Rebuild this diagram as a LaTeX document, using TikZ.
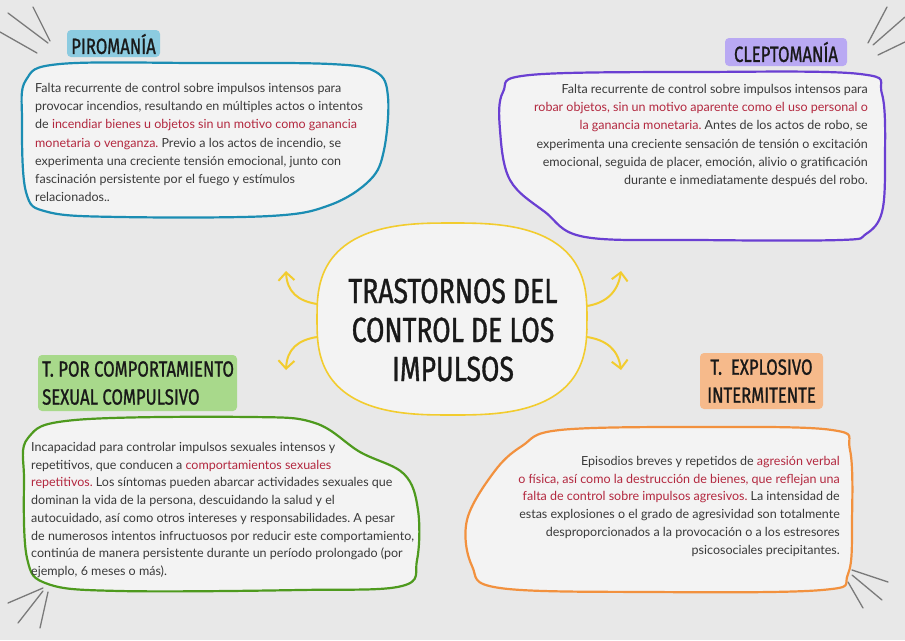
\documentclass[tikz,border=0pt]{standalone}
\usepackage{fontspec}
\setmainfont{Lato}
\newfontfamily\titlef[FakeStretch=0.76,FakeBold=1.0]{Fira Sans}
\usetikzlibrary{arrows.meta}
\frenchspacing
\definecolor{bg}{HTML}{E8E8E8}
\definecolor{blobfill}{HTML}{F3F3F3}
\definecolor{txt}{HTML}{3A3A3A}
\definecolor{hl}{HTML}{B3283F}
\definecolor{pblue}{HTML}{1B8DB3}
\definecolor{ppurple}{HTML}{6A3FD2}
\definecolor{pgreen}{HTML}{4E9A1E}
\definecolor{porange}{HTML}{F2913E}
\definecolor{pyellow}{HTML}{F2CC2E}
\definecolor{hblue}{HTML}{8CCBE0}
\definecolor{hpurple}{HTML}{B9A9F3}
\definecolor{hgreen}{HTML}{A8D98B}
\definecolor{horange}{HTML}{F6BA8B}
\definecolor{deco}{HTML}{7A7A7A}
\newcommand{\hlt}[1]{\textcolor{hl}{#1}}
\tikzset{
  blob/.style={line width=2.2pt, fill=blobfill, line join=round},
  body/.style={inner sep=0pt, text=txt, font=\fontsize{12.5}{18.2}\selectfont},
  head/.style={rounded corners=4pt, inner sep=0pt},
  headtxt/.style={inner sep=0pt, text=black!90, font=\titlef\fontsize{22}{28}\selectfont},
  ray/.style={draw=deco, line width=1.3pt, line cap=round},
  yarrow/.style={draw=pyellow, line width=2pt, line cap=round, -{Straight Barb[length=8pt,width=16pt,line width=2pt]}}
}
\begin{document}
\begin{tikzpicture}[x=1pt,y=-1pt]
\fill[bg] (0,0) rectangle (905,640);
\useasboundingbox (0,0) rectangle (905,640);

% decorative rays
\draw[ray] (8,13) -- (48,43);
\draw[ray] (33,7) -- (50,41);
\draw[ray] (0,32) -- (37,53);
\draw[ray] (887,7) -- (868,43);
\draw[ray] (905,17) -- (873,45);
\draw[ray] (905,42) -- (878,55);
\draw[ray] (43,588) -- (8,603);
\draw[ray] (43,591) -- (18,623);
\draw[ray] (48,592) -- (40,628);
\draw[ray] (852,570) -- (888,582);
\draw[ray] (852,575) -- (882,600);
\draw[ray] (848,582) -- (863,608);

% blobs
\draw[blob, draw=pblue] plot[smooth cycle, tension=0.6] coordinates {
 (26,80) (60,64) (200,63) (330,64) (376,72) (388,97) (384,150) (370,180) (330,205) (270,216) (120,217) (48,212) (26,192) (22,120)};
\draw[blob, draw=ppurple] plot[smooth cycle, tension=0.6] coordinates {
 (503,92) (530,75) (700,72) (860,74) (882,94) (885,160) (882,212) (866,234) (840,240) (700,240) (585,237) (545,212) (510,180) (500,130)};
\draw[blob, draw=pgreen] plot[smooth cycle, tension=0.6] coordinates {
 (28,438) (75,420) (250,417) (315,423) (360,452) (404,474) (418,510) (417,560) (402,586) (300,590) (120,591) (48,584) (27,558) (24,480)};
\draw[blob, draw=porange] plot[smooth cycle, tension=0.6] coordinates {
 (494,472) (522,446) (560,430) (700,427) (832,430) (850,450) (852,520) (848,574) (822,590) (650,592) (500,588) (472,566) (467,520)};
\draw[line width=1.6pt, draw=pyellow, fill=blobfill] plot[domain=2.5:362.5, samples=72, smooth cycle]
 ({452+135*sign(cos(\x))*pow(abs(cos(\x)),0.72)}, {319+96*sign(sin(\x))*pow(abs(sin(\x)),0.72)});

% headings
\fill[head, fill=hblue] (67,30) rectangle (160,57);
\node[headtxt] (hpiro) at (113.5,44) {PIROMANÍA};
\fill[head, fill=hpurple] (725,38) rectangle (847,66);
\node[headtxt] (hclep) at (786,52) {CLEPTOMANÍA};
\fill[head, fill=hgreen] (38,355) rectangle (237,411);
\node[headtxt, anchor=west, align=left] (hsex) at (42,383) {T. POR COMPORTAMIENTO\\SEXUAL COMPULSIVO};
\fill[head, fill=horange] (700,353) rectangle (823,409);
\node[headtxt, align=center] (hexp) at (761.5,381) {T.\ \ EXPLOSIVO\\INTERMITENTE};

% central title
\node[inner sep=0pt, align=center, text=black!90, font=\titlef\fontsize{35}{39}\selectfont] (center) at (453,330) {TRASTORNOS DEL\\CONTROL DE LOS\\IMPULSOS};

% arrows
\coordinate (la1) at (317,304);
\coordinate (la2) at (286,271);
\coordinate (lb1) at (317,337);
\coordinate (lb2) at (286,370);
\coordinate (ra1) at (587,306);
\coordinate (ra2) at (621,271);
\coordinate (rb1) at (587,337);
\coordinate (rb2) at (621,370);
\draw[yarrow] (la1) .. controls (298,301) and (287,292) .. (la2);
\draw[yarrow] (lb1) .. controls (298,340) and (287,349) .. (lb2);
\draw[yarrow] (ra1) .. controls (606,303) and (618,292) .. (ra2);
\draw[yarrow] (rb1) .. controls (606,340) and (618,349) .. (rb2);

% body texts
\node[body, anchor=north west, align=left] (tpiro) at (35,83) {Falta recurrente de control sobre impulsos intensos para\\
provocar incendios, resultando en múltiples actos o intentos\\
de \hlt{incendiar bienes u objetos sin un motivo como ganancia}\\
\hlt{monetaria o venganza.} Previo a los actos de incendio, se\\
experimenta una creciente tensión emocional, junto con\\
fascinación persistente por el fuego y estímulos\\
relacionados..};

\node[body, anchor=north east, align=right] (tclep) at (868,84) {Falta recurrente de control sobre impulsos intensos para\\
\hlt{robar objetos, sin un motivo aparente como el uso personal o}\\
\hlt{la ganancia monetaria.} Antes de los actos de robo, se\\
experimenta una creciente sensación de tensión o excitación\\
emocional, seguida de placer, emoción, alivio o gratificación\\
durante e inmediatamente después del robo.};

\node[body, anchor=north west, align=left, font=\fontsize{12.5}{17.75}\selectfont] (tsex) at (31,442) {Incapacidad para controlar impulsos sexuales intensos y\\
repetitivos, que conducen a \hlt{comportamientos sexuales}\\
\hlt{repetitivos.} Los síntomas pueden abarcar actividades sexuales que\\
dominan la vida de la persona, descuidando la salud y el\\
autocuidado, así como otros intereses y responsabilidades. A pesar\\
de numerosos intentos infructuosos por reducir este comportamiento,\\
continúa de manera persistente durante un período prolongado (por\\
ejemplo, 6 meses o más).};

\node[body, anchor=north east, align=right, font=\fontsize{12.5}{17.75}\selectfont] (texp) at (840,456) {Episodios breves y repetidos de \hlt{agresión verbal}\\
\hlt{o física, así como la destrucción de bienes, que reflejan una}\\
\hlt{falta de control sobre impulsos agresivos.} La intensidad de\\
estas explosiones o el grado de agresividad son totalmente\\
desproporcionados a la provocación o a los estresores\\
psicosociales precipitantes.};
\end{tikzpicture}
\end{document}
